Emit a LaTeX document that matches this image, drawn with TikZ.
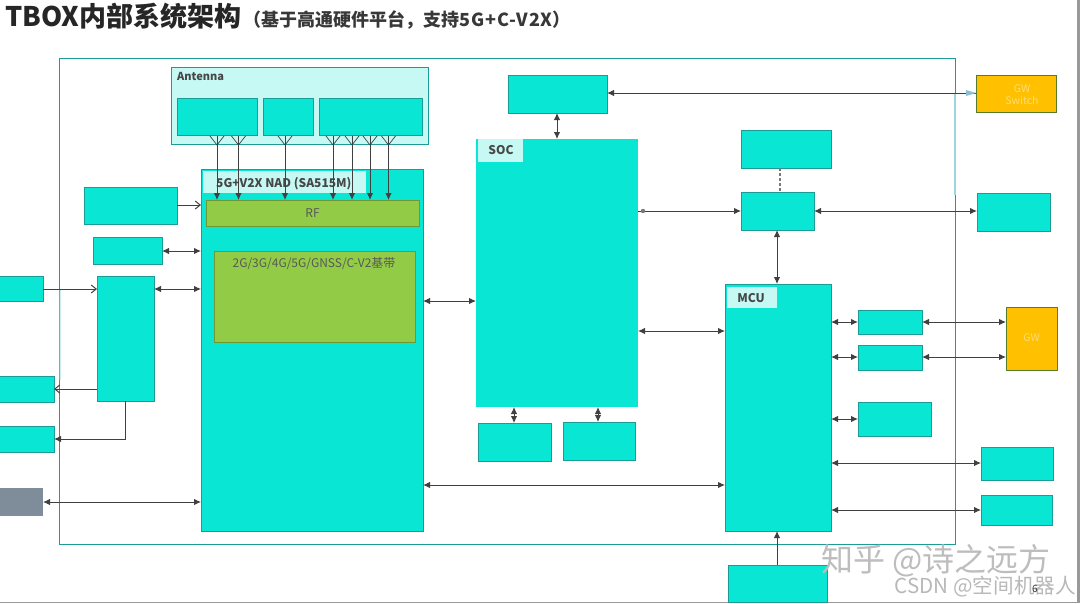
\documentclass[tikz,border=0pt]{standalone}
\usepackage{fontspec}
\setmainfont{Noto Sans CJK SC}
\usetikzlibrary{arrows.meta,calc}
\definecolor{tealb}{HTML}{0AE6D4}
\definecolor{tealedge}{HTML}{1B9C96}
\definecolor{lightc}{HTML}{C6F9F4}
\definecolor{greenb}{HTML}{92CC47}
\definecolor{yellowb}{HTML}{FFC000}
\definecolor{greyb}{HTML}{7F8C9A}
\definecolor{ink}{HTML}{404040}
\definecolor{bandc}{HTML}{9AD8E0}
\tikzset{
  x=1pt,y=-1pt,
  base/.style={anchor=north west,inner sep=0pt,outer sep=0pt},
  tealbox/.style={base,fill=tealb,draw=tealedge,line width=0.5pt},
  lightbox/.style={base,fill=lightc,draw=tealedge,line width=0.6pt},
  labelbox/.style={base,fill=lightc},
  greenbox/.style={base,fill=greenb,draw=greenb!75!black,line width=0.5pt},
  yellowbox/.style={base,fill=yellowb,draw=greenb!60!black,line width=0.6pt},
  greybox/.style={base,fill=greyb},
  both/.style={draw=ink,line width=1pt,{Latex[length=7pt,width=6.5pt]}-{Latex[length=7pt,width=6.5pt]}},
  one/.style={draw=ink,line width=1pt,-{Latex[length=7pt,width=6.5pt]}},
  open/.style={draw=ink,line width=1pt,-{Straight Barb[length=5pt,width=8pt]}},
  ant/.style={draw=ink,line width=0.7pt},
  band/.style={draw=bandc,line width=2.6pt},
  lab/.style={font=\bfseries\fontsize{12}{13}\selectfont,text=black!72,inner sep=0pt},
  lab2/.style={font=\fontsize{12}{13}\selectfont,text=black!65,inner sep=0pt},
  pale/.style={font=\fontsize{10.5}{12}\selectfont,text=white!45!yellowb,inner sep=0pt,align=center},
}
\newcommand{\bx}[6]{\node[#6,minimum width=#4pt-#2pt,minimum height=#5pt-#3pt] (#1) at (#2,#3) {};}
\newcommand{\antenna}[3]{% name, x, y of tip
  \coordinate (#1) at (#2,#3);
  \draw[ant] ($(#1)+(-7,0)$) -- ($(#1)+(0,9)$) -- ($(#1)+(7,0)$);
}
\begin{document}
\begin{tikzpicture}
\useasboundingbox (0,0) rectangle (1080,603);
\fill[white] (0,0) rectangle (1080,603);
\fill[black!40] (1077,0) rectangle (1080,603);
\fill[black!40] (0,601.5) rectangle (1080,603);
% title
\node[anchor=base west,inner sep=0pt,font=\bfseries\fontsize{27}{30}\selectfont,text=black!85] (title) at (5,26) {TBOX内部系统架构};
\node[anchor=base west,inner sep=0pt,font=\bfseries\fontsize{18}{20}\selectfont,text=black!78] (subtitle) at (243,26) {（基于高通硬件平台，支持{\addfontfeature{LetterSpace=5}5G+C-V2X}）};
% outer frame
\bx{outer}{59}{58}{955}{544}{base,draw=tealedge,line width=0.7pt}
\draw[band] (955,93) -- (955,195);
\draw[band,line width=2pt,draw opacity=0.5] (60,290) -- (60,380);
% antenna group
\bx{antgrp}{171}{67}{428}{144}{lightbox}
\node[lab,anchor=base west,font=\bfseries\fontsize{11}{13}\selectfont] (anttxt) at (177,80) {Antenna};
\bx{a1}{177}{98}{257}{135}{tealbox}
\bx{a2}{263}{98}{313}{135}{tealbox}
\bx{a3}{319}{98}{422}{135}{tealbox}
% NAD
\bx{nad}{201}{169}{423}{531}{tealbox}
\bx{nadlab}{203}{171}{366}{193}{labelbox}
\node[lab,anchor=base west] (nadtxt) at (216,187) {5G+V2X NAD (SA515M)};
\bx{rf}{206}{200}{419}{226}{greenbox}
\node[lab2] (rftxt) at (312.5,213) {RF};
\bx{bb}{214}{251}{415}{342}{greenbox}
\node[lab2,anchor=base] (bbtxt) at (314,267) {2G/3G/4G/5G/GNSS/C-V2基带};
% SOC
\bx{soc}{476}{139}{638}{407}{base,fill=tealb}
\bx{soclab}{478}{139}{523}{162}{labelbox}
\node[lab] (soctxt) at (501,150) {SOC};
\bx{topb}{508}{75}{607}{113}{tealbox}
\bx{s1}{478}{423}{551}{461}{tealbox}
\bx{s2}{563}{422}{635}{460}{tealbox}
% right upper
\bx{sw}{976}{75}{1056}{112}{yellowbox}
\node[pale] (swtxt) at (1022,95) {GW\\Switch};
\bx{c1}{741}{130}{831}{168}{tealbox}
\bx{c2}{741}{192}{814}{230}{tealbox}
\bx{c3}{977}{193}{1050}{231}{tealbox}
% MCU
\bx{mcu}{725}{284}{831}{531}{tealbox}
\bx{mculab}{727}{287}{777}{308}{labelbox}
\node[lab] (mcutxt) at (751,298) {MCU};
\bx{m1}{858}{310}{922}{334}{tealbox}
\bx{m2}{858}{345}{922}{370}{tealbox}
\bx{m3}{858}{402}{931}{436}{tealbox}
\bx{m4}{981}{447}{1053}{480}{tealbox}
\bx{m5}{981}{495}{1052}{525}{tealbox}
\bx{gw}{1006}{307}{1057}{370}{yellowbox}
\node[pale] (gwtxt) at (1031.5,338) {GW};
\bx{bot}{728}{565}{827}{602}{tealbox}
% left
\bx{l1}{84}{187}{177}{224}{tealbox}
\bx{l2}{93}{237}{162}{264}{tealbox}
\bx{l3}{97}{276}{154}{401}{tealbox}
\bx{e1}{-2}{276}{43}{301}{tealbox}
\bx{e2}{-2}{376}{54}{402}{tealbox}
\bx{e3}{-2}{426}{54}{452}{tealbox}
\bx{e4}{-2}{488}{43}{516}{greybox}
% antennas
\antenna{t1}{217}{136}\antenna{t2}{238.5}{136}\antenna{t3}{285}{136}
\antenna{t4}{333}{136}\antenna{t5}{352}{136}\antenna{t6}{370}{136}\antenna{t7}{388.5}{136}
\foreach \n in {t1,t2,t3,t4,t5,t6,t7}{\draw[one] (\n) -- (\n |- rf.north);}
% connectors
\draw[one] (sw.west |- 0,93) -- (topb.east |- 0,93);
\fill[cyan!50!gray!70] (sw.west |- 0,93) -- ++(-10,-3) -- ++(0,6) -- cycle;
\draw[both] (topb.south -| 557,0) -- (soc.north -| 557,0);
\draw[one] (soc.east |- 0,211) -- (c2.west |- 0,211);
\fill[ink!70] (soc.east |- 0,211) ++(5,0) circle (2.2pt);
\draw[draw=ink!70,dash pattern=on 3pt off 2pt,line width=2pt] (c1.south -| 780,0) -- (c2.north -| 780,0);
\draw[both] (c2.east |- 0,211) -- (c3.west |- 0,211);
\draw[both] (c2.south -| 777,0) -- (mcu.north -| 777,0);
\draw[both] (soc.east |- 0,331) -- (mcu.west |- 0,331);
\draw[both] (nad.east |- 0,301) -- (soc.west |- 0,301);
\draw[both] (nad.east |- 0,485) -- (mcu.west |- 0,485);
\draw[both] (soc.south -| 514,0) -- (s1.north -| 514,0);
\draw[both] (soc.south -| 598,0) -- (s2.north -| 598,0);
\draw[both] (mcu.east |- 0,322) -- (m1.west |- 0,322);
\draw[both] (mcu.east |- 0,357) -- (m2.west |- 0,357);
\draw[both] (mcu.east |- 0,419) -- (m3.west |- 0,419);
\draw[both] (mcu.east |- 0,463) -- (m4.west |- 0,463);
\draw[both] (mcu.east |- 0,510) -- (m5.west |- 0,510);
\draw[both] (m1.east |- 0,322) -- (gw.west |- 0,322);
\draw[both] (m2.east |- 0,357) -- (gw.west |- 0,357);
\draw[one] (bot.north -| 777,0) -- (mcu.south -| 777,0);
\draw[open] (l1.east |- 0,205) -- (nad.west |- 0,205);
\draw[both] (l2.east |- 0,251) -- (nad.west |- 0,251);
\draw[both] (l3.east |- 0,289) -- (nad.west |- 0,289);
\draw[open] (e1.east |- 0,289) -- (l3.west |- 0,289);
\draw[open] (l3.west |- 0,389) -- (e2.east |- 0,389);
\draw[one] (l3.south -| 125,0) -- (125,439) -- (e3.east |- 0,439);
\draw[both] (e4.east |- 0,502) -- (nad.west |- 0,502);
% watermarks
\node[anchor=base west,inner sep=0pt,font=\fontsize{32}{34}\selectfont,text=black!26] (wm1) at (821,571) {知乎 @诗之远方};
\node[anchor=base east,inner sep=0pt,font=\fontsize{20.6}{22}\selectfont,text=black!28] (wm2) at (1076,593) {CSDN @空间机器人};
\node[anchor=base,inner sep=0pt,font=\fontsize{10}{11}\selectfont,text=black!80] (pg) at (1035,592) {6};
\end{tikzpicture}
\end{document}
